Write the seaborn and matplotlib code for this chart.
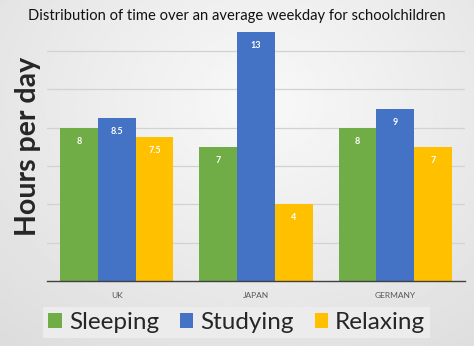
import numpy as np
import pandas as pd
import matplotlib
matplotlib.use("Agg")
import matplotlib.pyplot as plt
import seaborn as sns
from matplotlib.patches import Patch

countries = ["UK", "JAPAN", "GERMANY"]
activities = ["Sleeping", "Studying", "Relaxing"]
sleeping = [8, 7, 8]
studying = [8.5, 13, 9]
relaxing = [7.5, 4, 7]
colors = ["#70AD47", "#4472C4", "#FFC000"]

rows = []
for act, vals in zip(activities, [sleeping, studying, relaxing]):
    for c, v in zip(countries, vals):
        rows.append({"country": c, "activity": act, "hours": v})
df = pd.DataFrame(rows)

sns.set_theme(style="white")
plt.rcParams['font.family'] = ['Lato', 'DejaVu Sans']

fig = plt.figure(figsize=(4.74, 3.46), dpi=100)
fig.patch.set_facecolor("#e4e4e4")

# background gradient
bg = fig.add_axes([0, 0, 1, 1], zorder=-10)
yy, xx = np.mgrid[0:1:200j, 0:1:200j]
r = np.sqrt(((xx - 0.55) / 0.9) ** 2 + ((yy - 0.3) / 1.0) ** 2)
img = 0.975 - 0.12 * np.clip(r, 0, 1)
bg.imshow(img, cmap="gray", vmin=0, vmax=1, extent=[0, 1, 0, 1], aspect="auto")
bg.axis("off")

ax = fig.add_axes([0.0992, 0.1879, 0.8818, 0.7225])
ax.set_facecolor("none")
sns.barplot(data=df, x="country", y="hours", hue="activity", palette=colors,
            order=countries, hue_order=activities, width=0.814, saturation=1,
            ax=ax, legend=False, edgecolor="none", linewidth=0)
ax.set_xlim(-0.5, 2.5)
ax.set_ylim(0, 13.05)
ax.set_yticks([2, 4, 6, 8, 10, 12])
ax.set_yticklabels([])
ax.yaxis.grid(True, color="#d2d2d2", linewidth=0.9)
ax.set_axisbelow(True)
for s in ["top", "right", "left"]:
    ax.spines[s].set_visible(False)
ax.spines["bottom"].set_color("#404040")
ax.spines["bottom"].set_linewidth(1.0)
ax.tick_params(axis="y", length=0)
ax.tick_params(axis="x", length=0, labelsize=6, labelcolor="#595959", pad=8)
ax.set_xlabel("")
ax.set_ylabel("")

for cont in ax.containers:
    labels = [("%g" % b.get_height()) for b in cont]
    ax.bar_label(cont, labels=labels, padding=-13, color="white",
                 fontsize=6.5, fontweight="bold")

fig.text(0.5, 0.955, "Distribution of time over an average weekday for schoolchildren",
         ha="center", va="center", fontsize=10.6, color="#111111")
fig.text(0.059, 0.578, "Hours per day", rotation=90, ha="center", va="center",
         fontsize=20.5, fontweight="bold", color="#262626")

handles = [Patch(facecolor=c, edgecolor="none") for c in colors]
leg = fig.legend(handles, activities, loc="center", bbox_to_anchor=(0.4995, 0.068),
                 ncol=3, fontsize=17.5, frameon=True, fancybox=False,
                 handlelength=0.55, handleheight=0.55, handletextpad=0.3,
                 columnspacing=0.85, borderpad=0.2, labelcolor="#262626")
leg.get_frame().set_facecolor("#ececec")
leg.get_frame().set_edgecolor("none")
leg.get_frame().set_alpha(1)

fig.savefig("out.png", dpi=100, facecolor=fig.get_facecolor())
